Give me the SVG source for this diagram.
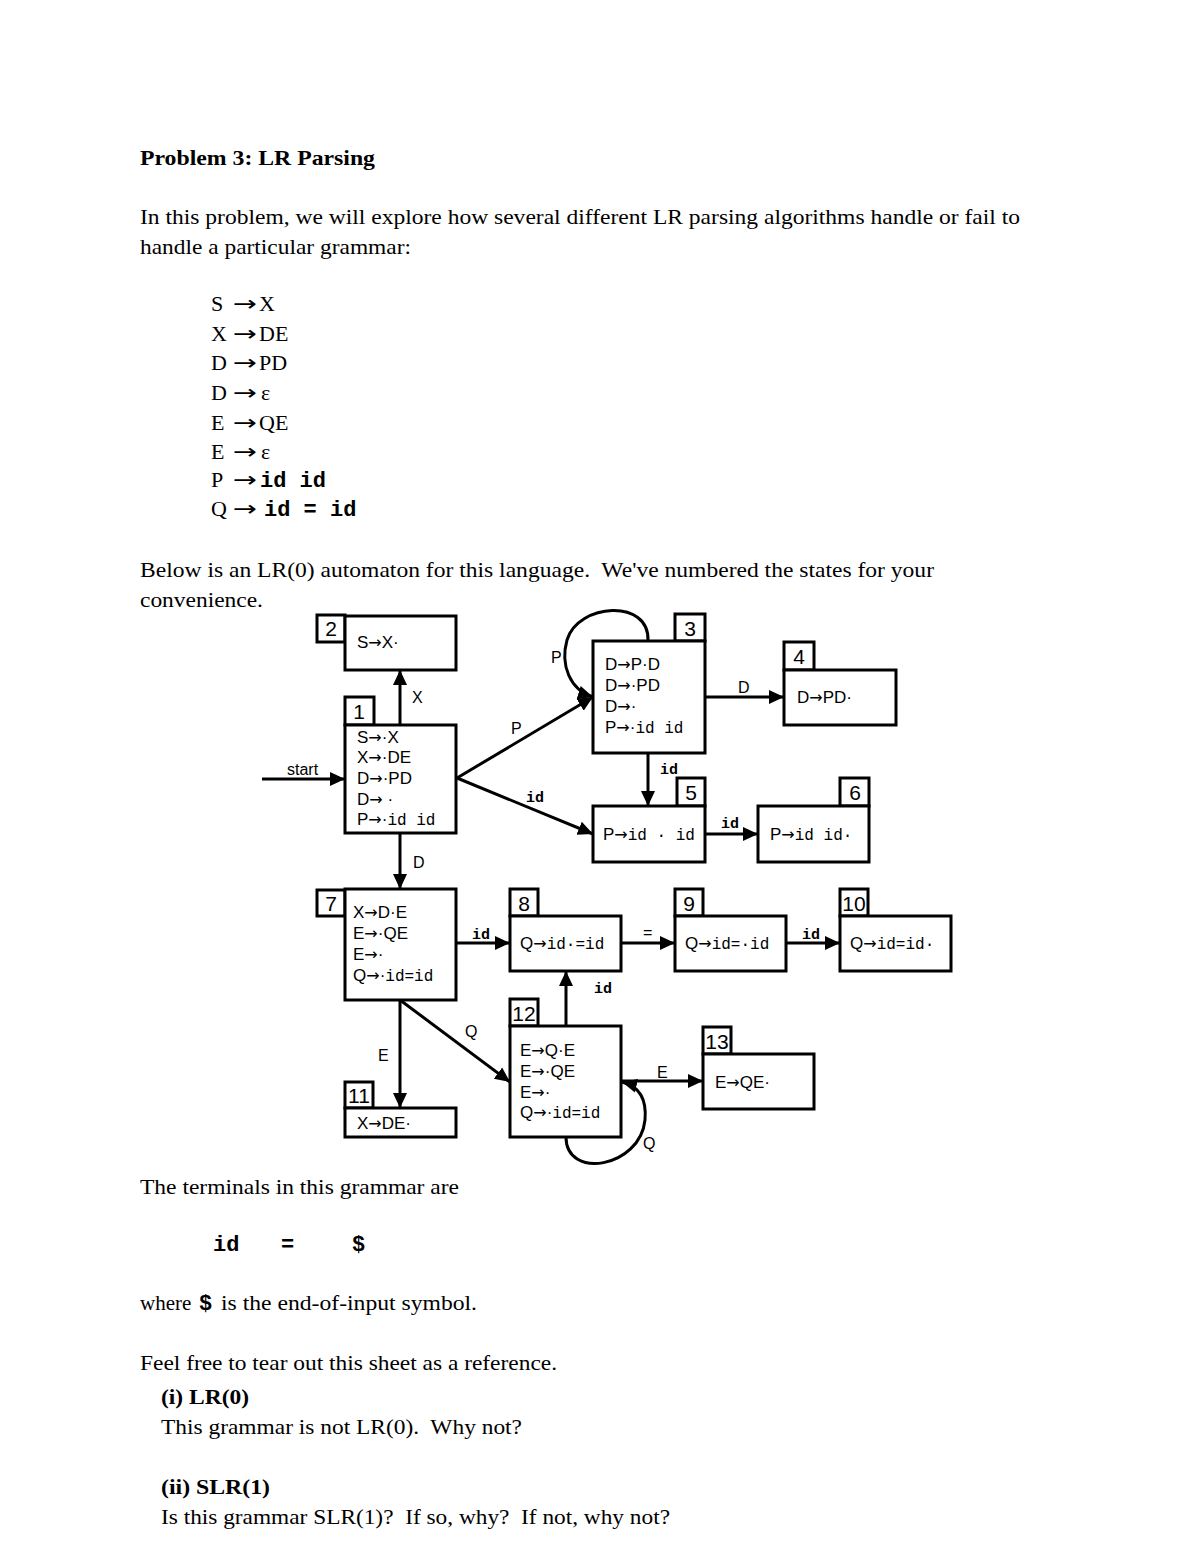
<svg xmlns="http://www.w3.org/2000/svg" width="1200" height="1553" viewBox="0 0 1200 1553">
<style>
.bg{fill:#fff}
text{white-space:pre}
.body{font-family:"Liberation Serif","Times New Roman",serif;font-size:21px;fill:#000}
.bold{font-weight:bold}
.gr{font-family:"Liberation Serif","Times New Roman",serif;font-size:22px;fill:#000}
.gar{font-family:"DejaVu Sans",sans-serif;font-size:21px;fill:#000}
.grb{font-family:"Liberation Mono","Courier New",monospace;font-size:22px;font-weight:bold;fill:#000}
.box{fill:#fff;stroke:#000;stroke-width:3}
.num{font-family:"Liberation Sans",Arial,sans-serif;font-size:21px;fill:#000;text-anchor:middle}
.it{font-family:"Liberation Sans",Arial,sans-serif;font-size:17px;fill:#000}
.ar{font-family:"DejaVu Sans",sans-serif;font-size:16px}
.itm{font-family:"Liberation Mono","Courier New",monospace;font-size:16px}
.edge{fill:none;stroke:#000;stroke-width:3;marker-end:url(#ah)}
.lbl{font-family:"Liberation Sans",Arial,sans-serif;font-size:16px;fill:#000}
.lblid{font-family:"Liberation Mono","Courier New",monospace;font-size:15px;font-weight:bold;fill:#000}
</style>
<defs>
<marker id="ah" markerUnits="userSpaceOnUse" markerWidth="16" markerHeight="16" viewBox="0 0 16 16" refX="15" refY="8" orient="auto">
<path d="M0,1 L15,8 L0,15 Z" fill="#000"/>
</marker>
</defs>
<rect class="bg" x="0" y="0" width="1200" height="1553"/>

<g id="text-top">
<text class="body bold" x="140" y="165" textLength="235" lengthAdjust="spacingAndGlyphs">Problem 3: LR Parsing</text>
<text class="body" x="140" y="224" textLength="880" lengthAdjust="spacingAndGlyphs">In this problem, we will explore how several different LR parsing algorithms handle or fail to</text>
<text class="body" x="140" y="254" textLength="271" lengthAdjust="spacingAndGlyphs">handle a particular grammar:</text>
</g>

<g id="grammar">
<text class="gr" x="211" y="311">S</text><text class="gar" x="233" y="311" textLength="24" lengthAdjust="spacingAndGlyphs">→</text><text class="gr" x="259" y="311">X</text>
<text class="gr" x="211" y="341">X</text><text class="gar" x="233" y="341" textLength="24" lengthAdjust="spacingAndGlyphs">→</text><text class="gr" x="259" y="341">DE</text>
<text class="gr" x="211" y="370">D</text><text class="gar" x="233" y="370" textLength="24" lengthAdjust="spacingAndGlyphs">→</text><text class="gr" x="259" y="370">PD</text>
<text class="gr" x="211" y="400">D</text><text class="gar" x="233" y="400" textLength="24" lengthAdjust="spacingAndGlyphs">→</text><text class="gr" x="261" y="400">ε</text>
<text class="gr" x="211" y="430">E</text><text class="gar" x="233" y="430" textLength="24" lengthAdjust="spacingAndGlyphs">→</text><text class="gr" x="259" y="430">QE</text>
<text class="gr" x="211" y="459">E</text><text class="gar" x="233" y="459" textLength="24" lengthAdjust="spacingAndGlyphs">→</text><text class="gr" x="261" y="459">ε</text>
<text class="gr" x="211" y="487">P</text><text class="gar" x="233" y="487" textLength="24" lengthAdjust="spacingAndGlyphs">→</text><text class="grb" x="260" y="487">id id</text>
<text class="gr" x="211" y="516">Q</text><text class="gar" x="233" y="516" textLength="24" lengthAdjust="spacingAndGlyphs">→</text><text class="grb" x="264" y="516">id = id</text>
</g>

<g id="text-mid">
<text class="body" x="140" y="577" textLength="794" lengthAdjust="spacingAndGlyphs">Below is an LR(0) automaton for this language.  We've numbered the states for your</text>
<text class="body" x="140" y="607" textLength="123" lengthAdjust="spacingAndGlyphs">convenience.</text>
</g>

<g id="connectors">
<line class="edge" x1="262" y1="779" x2="345" y2="779"/>
<line class="edge" x1="400" y1="725" x2="400" y2="670"/>
<line class="edge" x1="457" y1="778" x2="593" y2="697"/>
<line class="edge" x1="457" y1="778" x2="593" y2="834"/>
<path class="edge" d="M648,641 C650,598 578,603 567,640 C560,665 570,690 593,697"/>
<line class="edge" x1="705" y1="697" x2="784" y2="697"/>
<line class="edge" x1="648" y1="753" x2="648" y2="806"/>
<line class="edge" x1="705" y1="834" x2="758" y2="834"/>
<line class="edge" x1="400" y1="833" x2="400" y2="889"/>
<line class="edge" x1="456" y1="943" x2="510" y2="943"/>
<line class="edge" x1="621" y1="943" x2="675" y2="943"/>
<line class="edge" x1="786" y1="943" x2="840" y2="943"/>
<line class="edge" x1="566" y1="1026" x2="566" y2="971"/>
<line class="edge" x1="400" y1="1000" x2="400" y2="1108"/>
<line class="edge" x1="400" y1="1000" x2="510" y2="1082"/>
<line class="edge" x1="621" y1="1081" x2="703" y2="1081"/>
<path class="edge" d="M566,1137 C566,1180 640,1168 645,1120 C647,1098 638,1086 622,1082"/>
<text class="lbl" x="287" y="775">start</text>
<text class="lbl" x="412" y="703">X</text>
<text class="lbl" x="511" y="734">P</text>
<text class="lblid" x="526" y="802">id</text>
<text class="lbl" x="551" y="663">P</text>
<text class="lbl" x="738" y="693">D</text>
<text class="lblid" x="660" y="774">id</text>
<text class="lblid" x="721" y="828">id</text>
<text class="lbl" x="413" y="868">D</text>
<text class="lblid" x="472" y="939">id</text>
<text class="lbl" x="643" y="938">=</text>
<text class="lblid" x="802" y="939">id</text>
<text class="lblid" x="594" y="993">id</text>
<text class="lbl" x="378" y="1061">E</text>
<text class="lbl" x="465" y="1037">Q</text>
<text class="lbl" x="657" y="1078">E</text>
<text class="lbl" x="643" y="1149">Q</text>
</g>

<g id="state2">
<rect class="box" x="317" y="615" width="28" height="27"/>
<rect class="box" x="345" y="616" width="111" height="54"/>
<text class="num" x="331" y="636">2</text>
<text class="it" x="357" y="648">S<tspan class="ar">→</tspan>X·</text>
</g>

<g id="state1">
<rect class="box" x="345" y="697" width="29" height="28"/>
<rect class="box" x="345" y="725" width="111" height="108"/>
<text class="num" x="359" y="719">1</text>
<text class="it" x="357" y="743">S<tspan class="ar">→</tspan>·X</text>
<text class="it" x="357" y="763">X<tspan class="ar">→</tspan>·DE</text>
<text class="it" x="357" y="784">D<tspan class="ar">→</tspan>·PD</text>
<text class="it" x="357" y="805">D<tspan class="ar">→</tspan> ·</text>
<text class="it" x="357" y="825">P<tspan class="ar">→</tspan>·<tspan class="itm">id id</tspan></text>
</g>

<g id="state3">
<rect class="box" x="675" y="614" width="30" height="27"/>
<rect class="box" x="593" y="641" width="112" height="112"/>
<text class="num" x="690" y="636">3</text>
<text class="it" x="605" y="670">D<tspan class="ar">→</tspan>P·D</text>
<text class="it" x="605" y="691">D<tspan class="ar">→</tspan>·PD</text>
<text class="it" x="605" y="712">D<tspan class="ar">→</tspan>·</text>
<text class="it" x="605" y="733">P<tspan class="ar">→</tspan>·<tspan class="itm">id id</tspan></text>
</g>

<g id="state4">
<rect class="box" x="784" y="642" width="30" height="28"/>
<rect class="box" x="784" y="670" width="112" height="55"/>
<text class="num" x="799" y="664">4</text>
<text class="it" x="797" y="703">D<tspan class="ar">→</tspan>PD·</text>
</g>

<g id="state5">
<rect class="box" x="677" y="778" width="28" height="28"/>
<rect class="box" x="593" y="806" width="112" height="56"/>
<text class="num" x="691" y="800">5</text>
<text class="it" x="603" y="840">P<tspan class="ar">→</tspan><tspan class="itm">id · id</tspan></text>
</g>

<g id="state6">
<rect class="box" x="840" y="778" width="29" height="28"/>
<rect class="box" x="758" y="806" width="111" height="56"/>
<text class="num" x="855" y="800">6</text>
<text class="it" x="770" y="840">P<tspan class="ar">→</tspan><tspan class="itm">id id·</tspan></text>
</g>

<g id="state7">
<rect class="box" x="317" y="890" width="28" height="26"/>
<rect class="box" x="345" y="889" width="111" height="111"/>
<text class="num" x="331" y="911">7</text>
<text class="it" x="353" y="918">X<tspan class="ar">→</tspan>D·E</text>
<text class="it" x="353" y="939">E<tspan class="ar">→</tspan>·QE</text>
<text class="it" x="353" y="960">E<tspan class="ar">→</tspan>·</text>
<text class="it" x="353" y="981">Q<tspan class="ar">→</tspan>·<tspan class="itm">id=id</tspan></text>
</g>

<g id="state8">
<rect class="box" x="510" y="889" width="28" height="27"/>
<rect class="box" x="510" y="916" width="111" height="55"/>
<text class="num" x="524" y="911">8</text>
<text class="it" x="520" y="949">Q<tspan class="ar">→</tspan><tspan class="itm">id·=id</tspan></text>
</g>

<g id="state9">
<rect class="box" x="675" y="889" width="28" height="27"/>
<rect class="box" x="675" y="916" width="111" height="55"/>
<text class="num" x="689" y="911">9</text>
<text class="it" x="685" y="949">Q<tspan class="ar">→</tspan><tspan class="itm">id=·id</tspan></text>
</g>

<g id="state10">
<rect class="box" x="840" y="889" width="28" height="27"/>
<rect class="box" x="840" y="916" width="111" height="55"/>
<text class="num" x="854" y="911">10</text>
<text class="it" x="850" y="949">Q<tspan class="ar">→</tspan><tspan class="itm">id=id·</tspan></text>
</g>

<g id="state11">
<rect class="box" x="345" y="1082" width="28" height="26"/>
<rect class="box" x="345" y="1108" width="111" height="29"/>
<text class="num" x="359" y="1103">11</text>
<text class="it" x="357" y="1129">X<tspan class="ar">→</tspan>DE·</text>
</g>

<g id="state12">
<rect class="box" x="510" y="999" width="28" height="27"/>
<rect class="box" x="510" y="1026" width="111" height="111"/>
<text class="num" x="524" y="1021">12</text>
<text class="it" x="520" y="1056">E<tspan class="ar">→</tspan>Q·E</text>
<text class="it" x="520" y="1077">E<tspan class="ar">→</tspan>·QE</text>
<text class="it" x="520" y="1098">E<tspan class="ar">→</tspan>·</text>
<text class="it" x="520" y="1118">Q<tspan class="ar">→</tspan>·<tspan class="itm">id=id</tspan></text>
</g>

<g id="state13">
<rect class="box" x="703" y="1027" width="28" height="27"/>
<rect class="box" x="703" y="1054" width="111" height="55"/>
<text class="num" x="717" y="1049">13</text>
<text class="it" x="715" y="1088">E<tspan class="ar">→</tspan>QE·</text>
</g>

<g id="text-bottom">
<text class="body" x="140" y="1194" textLength="319" lengthAdjust="spacingAndGlyphs">The terminals in this grammar are</text>
<text class="grb" x="213" y="1251">id</text>
<text class="grb" x="281" y="1251">=</text>
<text class="grb" x="352" y="1251">$</text>
<text class="body" x="140" y="1310">where</text>
<text class="grb" x="199" y="1310">$</text>
<text class="body" x="221" y="1310" textLength="256" lengthAdjust="spacingAndGlyphs">is the end-of-input symbol.</text>
<text class="body" x="140" y="1370" textLength="417" lengthAdjust="spacingAndGlyphs">Feel free to tear out this sheet as a reference.</text>
<text class="body bold" x="161" y="1404" textLength="88" lengthAdjust="spacingAndGlyphs">(i) LR(0)</text>
<text class="body" x="161" y="1434" textLength="361" lengthAdjust="spacingAndGlyphs">This grammar is not LR(0).  Why not?</text>
<text class="body bold" x="161" y="1494" textLength="109" lengthAdjust="spacingAndGlyphs">(ii) SLR(1)</text>
<text class="body" x="161" y="1524" textLength="509" lengthAdjust="spacingAndGlyphs">Is this grammar SLR(1)?  If so, why?  If not, why not?</text>
</g>
</svg>
